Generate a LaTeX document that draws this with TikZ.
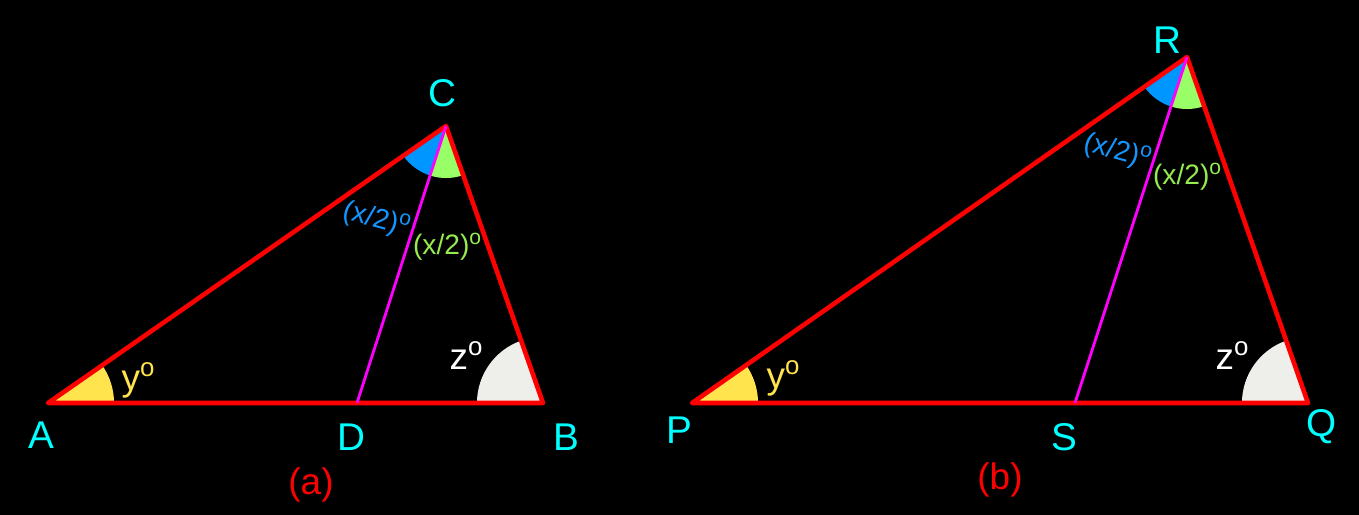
\documentclass[tikz,border=0pt]{standalone}
\usepackage{fontspec}
\setmainfont{Liberation Sans}
\usepackage{tikz}
\usetikzlibrary{angles, calc, positioning}
\definecolor{sidered}{RGB}{255,0,0}
\definecolor{bisectpink}{RGB}{255,0,255}
\definecolor{vertexcyan}{RGB}{0,255,255}
\definecolor{sectorblue}{RGB}{0,150,255}
\definecolor{sectorgreen}{RGB}{153,255,102}
\definecolor{sectoryellow}{RGB}{255,228,77}
\definecolor{sectorgray}{RGB}{238,238,234}
\definecolor{labelblue}{RGB}{20,150,255}
\definecolor{labelgreen}{RGB}{150,235,80}
\tikzstyle{side} = [sidered, line width=1.3pt, line join=round]
\tikzstyle{bisector} = [bisectpink, line width=0.8pt]
\tikzstyle{vertex} = [vertexcyan, inner sep=0pt, font=\fontsize{11}{13}\selectfont]
\tikzstyle{tag} = [sidered, inner sep=0pt, font=\fontsize{10.5}{12}\selectfont]
\tikzstyle{angletext} = [inner sep=0pt, font=\fontsize{10.5}{12}\selectfont]
\tikzstyle{halftext} = [inner sep=0pt, font=\fontsize{8}{10}\selectfont]

\begin{document}
\begin{tikzpicture}[x=0.01cm, y=-0.01cm]
	\fill[black] (0,0) rectangle (1359,515);
	\useasboundingbox (0,0) rectangle (1359,515);
	% triangle (a)
	\coordinate (A) at (48,403);
	\coordinate (B) at (543,403);
	\coordinate (C) at (446,126);
	\coordinate (D) at (357,403);
	\pic[fill=sectoryellow, angle radius=0.66cm] {angle = B--A--C};
	\pic[fill=sectorgray, angle radius=0.66cm] {angle = C--B--A};
	\pic[fill=sectorblue, angle radius=0.52cm] {angle = A--C--D};
	\pic[fill=sectorgreen, angle radius=0.52cm] {angle = D--C--B};
	\draw[side] (A) -- (B) -- (C) -- cycle;
	\draw[bisector] (C) -- (D);
	\node (Alabel) [vertex] at (41,435) {A};
	\node (Dlabel) [vertex] at (351,437) {D};
	\node (Blabel) [vertex] at (566,437) {B};
	\node (Clabel) [vertex] at (442,93) {C};
	\node (atag) [tag] at (311,485) {(a)};
	\node (yA) [angletext, sectoryellow] at (139,380) {y\textsuperscript{o}};
	\node (zB) [angletext, white] at (467,356) {z\textsuperscript{o}};
	\node (halfACD) [halftext, labelblue, rotate=-15] at (377,220) {(x/2)\textsuperscript{o}};
	\node (halfDCB) [halftext, labelgreen] at (448,247) {(x/2)\textsuperscript{o}};
	% triangle (b)
	\coordinate (P) at (692,403);
	\coordinate (Q) at (1308,403);
	\coordinate (R) at (1187,57);
	\coordinate (S) at (1075,403);
	\pic[fill=sectoryellow, angle radius=0.66cm] {angle = Q--P--R};
	\pic[fill=sectorgray, angle radius=0.66cm] {angle = R--Q--P};
	\pic[fill=sectorblue, angle radius=0.52cm] {angle = P--R--S};
	\pic[fill=sectorgreen, angle radius=0.52cm] {angle = S--R--Q};
	\draw[side] (P) -- (Q) -- (R) -- cycle;
	\draw[bisector] (R) -- (S);
	\node (Plabel) [vertex] at (679,430) {P};
	\node (Slabel) [vertex] at (1064,437) {S};
	\node (Qlabel) [vertex] at (1322,427) {Q};
	\node (Rlabel) [vertex] at (1167,40) {R};
	\node (btag) [tag] at (1000,480) {(b)};
	\node (yP) [angletext, sectoryellow] at (784,378) {y\textsuperscript{o}};
	\node (zQ) [angletext, white] at (1233,356) {z\textsuperscript{o}};
	\node (halfPRS) [halftext, labelblue, rotate=-15] at (1118,152) {(x/2)\textsuperscript{o}};
	\node (halfSRQ) [halftext, labelgreen] at (1188,177) {(x/2)\textsuperscript{o}};
\end{tikzpicture}
\end{document}
